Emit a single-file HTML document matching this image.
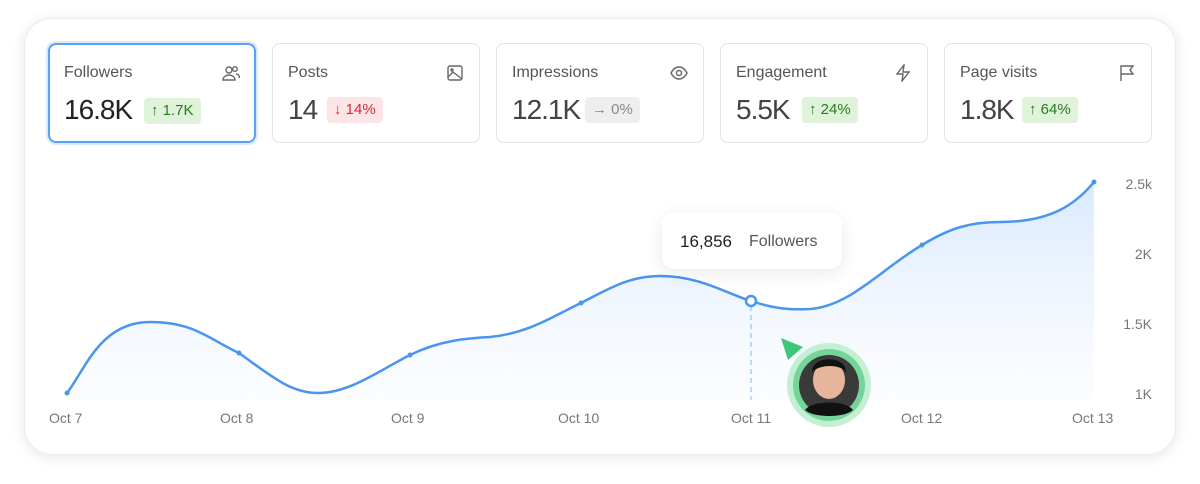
<!DOCTYPE html>
<html><head><meta charset="utf-8"><style>
body{margin:0;width:1200px;height:484px;background:#fff;font-family:"Liberation Sans",sans-serif;position:relative;overflow:hidden}
.card{position:absolute;left:24px;top:18px;width:1152px;height:437px;border-radius:28px;background:#fff;box-shadow:0 2px 14px rgba(0,0,0,.10);border:1px solid #ececec;box-sizing:border-box}
.st{position:absolute;top:43px;width:208px;height:100px;border:1px solid #e2e2e2;border-radius:8px;box-sizing:border-box;background:#fff}
.st.sel{border:2px solid #5aa2f5;box-shadow:0 0 0 2px #dceafc}
.sel .lab{left:14px;top:19px}.sel .val{left:14px;top:49px}.sel .ic{right:14px;top:19px}
.lab{position:absolute;left:15px;top:20px;font-size:16px;color:#555}
.val{position:absolute;left:15px;top:50px;font-size:28px;color:#222;letter-spacing:-1px}
.bd{position:absolute;top:53px;height:26px;line-height:26px;font-size:15px;padding:0 7px;border-radius:4px}
.g{background:#dff3da;color:#2b7a1f}.r{background:#fde4e6;color:#d42a3a}.n{background:#eee;color:#888}
.ic{position:absolute;right:15px;top:20px;width:18px;height:18px}
.t{position:absolute;font-size:14px;color:#777}
</style></head><body>
<div class="card"></div>
<div class="st sel" style="left:48px"><div class="lab">Followers</div><div class="val">16.8K</div><div class="bd g" style="left:94px">↑ 1.7K</div>
<svg class="ic" viewBox="0 0 18 18" fill="none" stroke="#666" stroke-width="1.4"><circle cx="7" cy="6" r="3"/><path d="M1 16c0-3 3-5 6-5s6 2 6 5z"/><circle cx="13" cy="5" r="2.3"/><path d="M14 10c2 0 3.5 1.5 3.5 4"/></svg></div>
<div class="st" style="left:272px"><div class="lab">Posts</div><div class="val" style="color:#444">14</div><div class="bd r" style="left:54px">↓ 14%</div>
<svg class="ic" viewBox="0 0 18 18" fill="none" stroke="#666" stroke-width="1.4"><rect x="2" y="2" width="14" height="14" rx="2"/><path d="M2 13l5-5 9 7"/><circle cx="6" cy="6" r="1"/></svg></div>
<div class="st" style="left:496px"><div class="lab">Impressions</div><div class="val" style="color:#444">12.1K</div><div class="bd n" style="left:88px">→ 0%</div>
<svg class="ic" viewBox="0 0 18 18" fill="none" stroke="#666" stroke-width="1.4"><path d="M1 9c2-4 5-6 8-6s6 2 8 6c-2 4-5 6-8 6s-6-2-8-6z"/><circle cx="9" cy="9" r="2.5"/></svg></div>
<div class="st" style="left:720px"><div class="lab">Engagement</div><div class="val" style="color:#444">5.5K</div><div class="bd g" style="left:81px">↑ 24%</div>
<svg class="ic" viewBox="0 0 18 18" fill="none" stroke="#666" stroke-width="1.4"><path d="M10 1L3 10h6l-1 7 7-9H9z"/></svg></div>
<div class="st" style="left:944px"><div class="lab">Page visits</div><div class="val" style="color:#444">1.8K</div><div class="bd g" style="left:77px">↑ 64%</div>
<svg class="ic" viewBox="0 0 18 18" fill="none" stroke="#666" stroke-width="1.4"><path d="M3 17V2h12l-3 4 3 4H3"/></svg></div>
<svg style="position:absolute;left:0;top:0" width="1200" height="484">
<defs><linearGradient id="f" x1="0" y1="0" x2="0" y2="1"><stop offset="0" stop-color="#d5e7fd" stop-opacity=".9"/><stop offset="1" stop-color="#eef5ff" stop-opacity=".2"/></linearGradient></defs>
<path d="M67,393 C85,370 100,322 150,322 C195,322 210,340 239,353 C270,375 290,393 318,393 C350,393 380,370 410,355 C440,340 470,338 490,337 C530,333 555,315 581,303 C610,288 630,276 660,276 C700,276 725,293 751,301 C775,309 790,310 810,309 C850,306 880,270 922,245 C950,228 970,222 1000,222 C1050,222 1075,205 1094,182 L1094,400 L67,400Z" fill="url(#f)"/>
<path d="M67,393 C85,370 100,322 150,322 C195,322 210,340 239,353 C270,375 290,393 318,393 C350,393 380,370 410,355 C440,340 470,338 490,337 C530,333 555,315 581,303 C610,288 630,276 660,276 C700,276 725,293 751,301 C775,309 790,310 810,309 C850,306 880,270 922,245 C950,228 970,222 1000,222 C1050,222 1075,205 1094,182" fill="none" stroke="#4a95ee" stroke-width="2.5"/>
<g fill="#4a95ee"><circle cx="67" cy="393" r="2.5"/><circle cx="239" cy="353" r="2.5"/><circle cx="410" cy="355" r="2.5"/><circle cx="581" cy="303" r="2.5"/><circle cx="922" cy="245" r="2.5"/><circle cx="1094" cy="182" r="2.5"/></g>
<line x1="751" y1="306" x2="751" y2="400" stroke="#a9cdf7" stroke-width="1.5" stroke-dasharray="5,4"/>
<circle cx="751" cy="301" r="5" fill="#fff" stroke="#4a95ee" stroke-width="2.5"/>
<path d="M781,338 L803,347 L788,360Z" fill="#3ec77a"/>
<circle cx="829" cy="385" r="42" fill="#c4efd3"/><circle cx="829" cy="385" r="36" fill="#74d49a"/>
<circle cx="829" cy="385" r="30" fill="#3a3a3a"/><ellipse cx="829" cy="380" rx="16" ry="19" fill="#e6b59b"/><path d="M812,372 C812,355 846,355 846,372 C840,364 820,364 812,372Z" fill="#111"/><path d="M805,410 C812,400 846,400 853,410 C845,418 813,418 805,410Z" fill="#111"/>
</svg>
<div style="position:absolute;left:662px;top:213px;width:180px;height:56px;background:#fff;border-radius:12px;box-shadow:0 4px 18px rgba(0,0,0,.09)"><span style="position:absolute;left:18px;top:19px;font-size:17px;color:#222">16,856</span><span style="position:absolute;left:87px;top:20px;font-size:16px;color:#555">Followers</span></div>
<div class="t" style="left:49px;top:410px">Oct 7</div><div class="t" style="left:220px;top:410px">Oct 8</div><div class="t" style="left:391px;top:410px">Oct 9</div><div class="t" style="left:558px;top:410px">Oct 10</div><div class="t" style="left:731px;top:410px">Oct 11</div><div class="t" style="left:901px;top:410px">Oct 12</div><div class="t" style="left:1072px;top:410px">Oct 13</div>
<div class="t" style="right:48px;top:176px">2.5k</div><div class="t" style="right:48px;top:246px">2K</div><div class="t" style="right:48px;top:316px">1.5K</div><div class="t" style="right:48px;top:386px">1K</div>
</body></html>
